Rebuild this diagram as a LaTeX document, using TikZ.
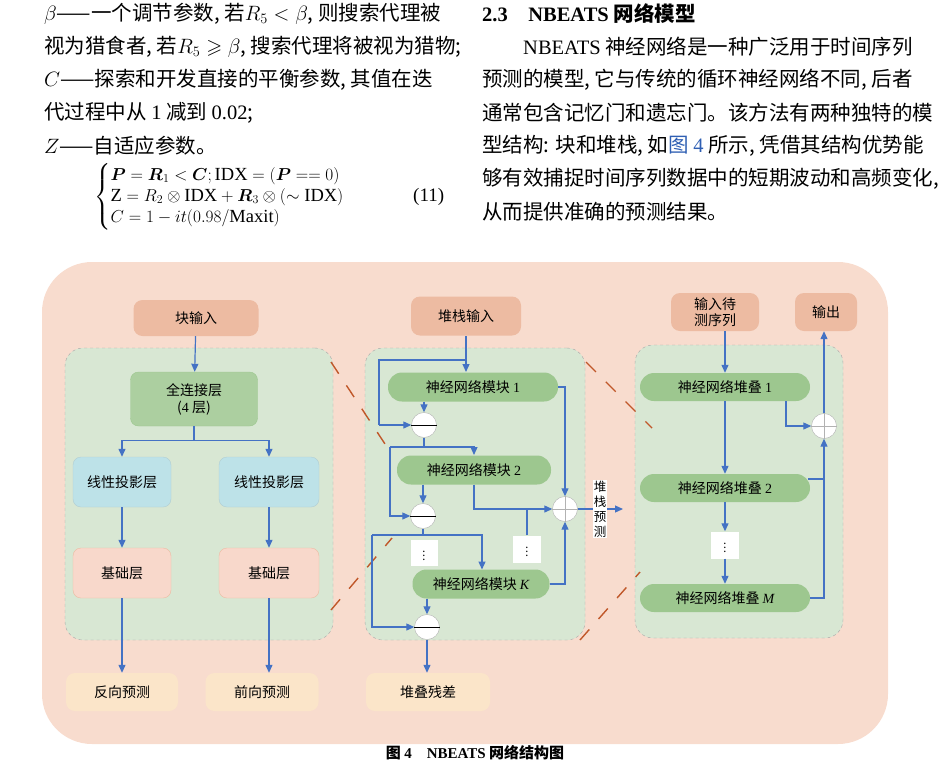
\documentclass[tikz,border=0pt]{standalone}
\usepackage{amsmath,amssymb}
\usepackage{fontspec}
\setmainfont{Noto Sans CJK SC}
\newfontfamily\lat{Liberation Serif}
\newcommand{\lt}[1]{\textnormal{\lat #1}}
\usetikzlibrary{arrows.meta}
\definecolor{pinkbg}{HTML}{F8DCCE}
\definecolor{greenbg}{HTML}{D8E7D3}
\definecolor{orangebox}{HTML}{EDBBA2}
\definecolor{gbox}{HTML}{9DC78F}
\definecolor{bluebox}{HTML}{BDE2E8}
\definecolor{basebox}{HTML}{F8D8CB}
\definecolor{outbox}{HTML}{FBE5C9}
\definecolor{arr}{HTML}{4472C4}
\definecolor{brn}{HTML}{C0582A}
\definecolor{linkc}{HTML}{2F5FB3}
\tikzset{
 panel/.style={draw=gray!70,dashed,fill=greenbg,rounded corners=18pt},
 obox/.style={fill=orangebox,rounded corners=9pt,font=\fontsize{14}{16}\selectfont,align=center},
 gpill/.style={fill=gbox,rounded corners=14pt,font=\fontsize{14}{16}\selectfont},
 bbox/.style={fill=bluebox,draw=bluebox!80!gray,rounded corners=8pt,font=\fontsize{14}{16}\selectfont},
 basebx/.style={fill=basebox,draw=orangebox,rounded corners=8pt,font=\fontsize{14}{16}\selectfont},
 outbx/.style={fill=outbox,rounded corners=9pt,font=\fontsize{14}{16}\selectfont},
 circ/.style={circle,draw=gray!60,fill=white,minimum size=25pt,inner sep=0pt},
 dotbx/.style={fill=white,inner sep=0pt,font=\fontsize{11}{11}\selectfont},
 ar/.style={draw=arr,line width=1.2pt,-{Triangle[length=8pt,width=7pt]}},
 ln/.style={draw=arr,line width=1.2pt},
 bd/.style={draw=brn,line width=1.4pt,dash pattern=on 14pt off 14pt},
 txt/.style={anchor=west,inner sep=0pt,font=\fontsize{20.5}{21}\selectfont},
}
\begin{document}
\begin{tikzpicture}[x=1pt,y=-1pt]
\useasboundingbox (0,0) rectangle (951,766);
% ---- top text left
\node[txt] (l1) at (44,14) {$\beta$——一个调节参数, 若$R_5<\beta$, 则搜索代理被};
\node[txt] (l2) at (44,47) {视为猎食者, 若$R_5\geqslant\beta$, 搜索代理将被视为猎物;};
\node[txt] (l3) at (44,80) {$C$——探索和开发直接的平衡参数, 其值在迭};
\node[txt] (l4) at (44,113) {代过程中从 {\lat 1} 减到 {\lat 0.02};};
\node[txt] (l5) at (44,146) {$Z$——自适应参数。};
\node[anchor=west,inner sep=0pt,font=\fontsize{18.5}{20}\selectfont] (eq) at (94,197)
 {$\left\{\begin{array}{@{}l@{}}\boldsymbol{P}=\boldsymbol{R}_1<\boldsymbol{C};\lt{IDX}=(\boldsymbol{P}==0)\\[1pt]
 \lt{Z}=R_2\otimes\lt{IDX}+\boldsymbol{R}_3\otimes(\sim\lt{IDX})\\[1pt]
 C=1-it(0.98/\lt{Maxit})\end{array}\right.$};
\node[txt,font=\fontsize{19}{20}\selectfont\lat] (eqn) at (413,197) {(11)};
% ---- top text right
\node[txt,font=\fontsize{20.5}{21}\selectfont\bfseries] (h) at (482,14) {{\lat\bfseries 2.3}\quad {\lat\bfseries NBEATS} 网络模型};
\node[txt] (r1) at (523,47) {{\lat NBEATS} 神经网络是一种广泛用于时间序列};
\node[txt] (r2) at (482,80) {预测的模型, 它与传统的循环神经网络不同, 后者};
\node[txt] (r3) at (482,113) {通常包含记忆门和遗忘门。该方法有两种独特的模};
\node[txt] (r4) at (482,146) {型结构: 块和堆栈, 如{\color{linkc}图 {\lat 4}} 所示, 凭借其结构优势能};
\node[txt] (r5) at (482,179) {够有效捕捉时间序列数据中的短期波动和高频变化,};
\node[txt] (r6) at (482,212) {从而提供准确的预测结果。};
% ---- background
\fill[pinkbg,rounded corners=50pt] (42,262) rectangle (888,744);
\node[panel,minimum width=268pt,minimum height=292pt] (pl) at (199,494) {};
\node[panel,minimum width=220pt,minimum height=292pt] (pm) at (475,494) {};
\node[panel,minimum width=208pt,minimum height=293pt] (pr) at (739,491.5) {};
% dashed brown
\draw[bd] (331,362) -- (385,444);
\draw[bd] (331,610) -- (392,538);
\draw[bd] (586,362) -- (652,428);
\draw[bd] (580,640) -- (640,572);
% ---- left block
\node[obox,minimum width=125pt,minimum height=36pt] (bin) at (196,318) {块输入};
\node[fill=gbox!85!white,draw=gbox,rounded corners=8pt,minimum width=127pt,minimum height=54pt,align=center,font=\fontsize{14}{17}\selectfont] (fc) at (194,399) {全连接层\\({\lat 4} 层)};
\node[bbox,minimum width=98pt,minimum height=50pt] (lp1) at (122,482) {线性投影层};
\node[bbox,minimum width=100pt,minimum height=50pt] (lp2) at (269,482) {线性投影层};
\node[basebx,minimum width=98pt,minimum height=50pt] (b1) at (122,573) {基础层};
\node[basebx,minimum width=100pt,minimum height=50pt] (b2) at (269,573) {基础层};
\node[outbx,minimum width=112pt,minimum height=38pt] (o1) at (122,692) {反向预测};
\node[outbx,minimum width=113pt,minimum height=38pt] (o2) at (262,692) {前向预测};
\node[outbx,minimum width=124pt,minimum height=38pt] (o3) at (428,692) {堆叠残差};
\draw[ar] (bin) -- (fc);
\draw[ln] (fc.south) -- ++(0,14) coordinate (fcs);
\draw[ar] (fcs) -| (lp1.north);
\draw[ar] (fcs) -| (lp2.north);
\draw[ar] (lp1) -- (b1);
\draw[ar] (lp2) -- (b2);
\draw[ar] (b1) -- (b1 |- o1.north);
\draw[ar] (b2) -- (b2 |- o2.north);
% ---- middle block
\node[obox,minimum width=110pt,minimum height=39pt] (sin) at (466,316) {堆栈输入};
\node[gpill,minimum width=170pt,minimum height=29pt] (m1) at (473,387) {神经网络模块 {\lat 1}};
\node[gpill,minimum width=154pt,minimum height=29pt] (m2) at (474,470) {神经网络模块 {\lat 2}};
\node[gpill,minimum width=137pt,minimum height=29pt] (mk) at (481,584) {神经网络模块 {\lat\itshape K}};
\node[circ] (c1) at (424,425) {}; \draw[line width=0.8pt] (c1.west) -- (c1.east);
\node[circ] (c2) at (423,516) {}; \draw[line width=0.8pt] (c2.west) -- (c2.east);
\node[circ] (c3) at (427,627) {}; \draw[line width=0.8pt] (c3.west) -- (c3.east);
\node[circ] (pm1) at (565,509) {}; \draw[gray!60] (pm1.west) -- (pm1.east) (pm1.north) -- (pm1.south);
\node[dotbx,minimum width=27pt,minimum height=26pt] (d1) at (424,553) {$\vdots$};
\node[dotbx,minimum width=28pt,minimum height=27pt] (d2) at (527,549) {$\vdots$};
\node[fill=white,inner sep=1pt,align=center,font=\fontsize{12.5}{15}\selectfont] (sp) at (600,509) {堆\\栈\\预\\测};
\coordinate (spend) at (623,509);
\draw[ar] (466,336) -- (466,372);
\draw[ln] (466,360) -- (379,360) -- (379,425);
\draw[ar] (379,425) -- (c1.west);
\draw[ar] (c1 |- m1.south) -- (c1.north);
\draw[ln] (c1.south) -- (424,447);
\draw[ar] (390,447) -- (474,447) -- (474,455);
\draw[ar] (390,447) |- (c2.west);
\draw[ar] (c2 |- m2.south) -- (c2.north);
\draw[ln] (c2.south) -- (423,535);
\draw[ar] (372,535) -- (482,535) -- (482,569.5);
\draw[ar] (372,535) |- (c3.west);
\draw[ar] (c3 |- mk.south) -- (c3.north);
\draw[ar] (c3.south) -- (c3 |- o3.north);
\draw[ar] (m1.east) -| (pm1.north);
\draw[ar] (474,484.5) |- (pm1.west);
\draw[ln] (d2.north) -- (527,509);
\draw[ar] (mk.east) -| (pm1.south);
\draw[ln] (pm1.east) -- (sp.west);
\draw[ar] (sp.east) -- (spend);
% ---- right block
\node[obox,minimum width=88pt,minimum height=38pt,font=\fontsize{14}{16}\selectfont] (tin) at (715,312) {输入待\\测序列};
\node[obox,minimum width=62pt,minimum height=38pt] (out) at (826,312) {输出};
\node[gpill,minimum width=170pt,minimum height=28pt] (s1) at (725,387) {神经网络堆叠 {\lat 1}};
\node[gpill,minimum width=170pt,minimum height=28pt] (s2) at (725,488) {神经网络堆叠 {\lat 2}};
\node[gpill,minimum width=170pt,minimum height=28pt] (sm) at (725,598) {神经网络堆叠 {\lat\itshape M}};
\node[dotbx,minimum width=28pt,minimum height=27pt] (d3) at (725,545) {$\vdots$};
\node[circ] (pr1) at (824,426) {}; \draw[gray!60] (pr1.west) -- (pr1.east) (pr1.north) -- (pr1.south);
\draw[ar] (tin.south -| s1) -- (s1.north);
\draw[ar] (s1) -- (s2);
\draw[ar] (s2) -- (d3);
\draw[ar] (d3) -- (sm);
\draw[ar] (786,401) |- (pr1.west);
\draw[ln] (808,479) -- (824,479);
\draw[ar] (sm.east) -| (pr1.south);
\draw[ar] (pr1.north) -- (pr1 |- out.south);
% caption
\node[font=\fontsize{15}{16}\selectfont\bfseries] (cap) at (475,753) {图 {\lat\bfseries 4}\quad {\lat\bfseries NBEATS} 网络结构图};
\end{tikzpicture}
\end{document}
